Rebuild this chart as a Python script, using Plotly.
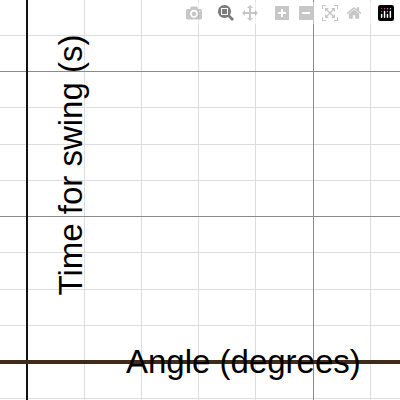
import plotly.graph_objects as go

# axis titles as drawn on the graph paper
x_label = "Angle (degrees)"
y_label = "Time for swing (s)"
x_range = [-0.47, 6.52]
y_range = [-1.05, 9.97]

fig = go.Figure()
fig.add_trace(go.Scatter(x=[], y=[], mode="lines"))

fig.update_layout(
    width=400, height=400,
    margin=dict(l=0, r=0, t=0, b=0),
    plot_bgcolor="white", paper_bgcolor="white",
    showlegend=False,
    font=dict(family="Liberation Sans, Arial", color="black"),
)
fig.update_xaxes(
    range=x_range, showticklabels=False, ticks="",
    dtick=5, tick0=0, showgrid=True, gridcolor="#8a8a8a", gridwidth=1,
    minor=dict(dtick=1, tick0=0, showgrid=True, gridcolor="#dddddd", gridwidth=1),
    zeroline=True, zerolinecolor="#111111", zerolinewidth=2,
)
fig.update_yaxes(
    range=y_range, showticklabels=False, ticks="",
    dtick=4, tick0=0, showgrid=True, gridcolor="#8a8a8a", gridwidth=1,
    minor=dict(dtick=1, tick0=0, showgrid=True, gridcolor="#dddddd", gridwidth=1),
    zeroline=True, zerolinecolor="#3f2a1c", zerolinewidth=3.5,
)
fig.add_annotation(text=x_label, showarrow=False, font=dict(size=33),
                   x=243 / 400, y=1 - 382 / 400, xref="paper", yref="paper")
fig.add_annotation(text=y_label, textangle=-90, showarrow=False, font=dict(size=33),
                   x=49 / 400, y=1 - 165 / 400, xref="paper", yref="paper")
fig.write_html("out.html", post_script="document.body.style.margin='0';")
